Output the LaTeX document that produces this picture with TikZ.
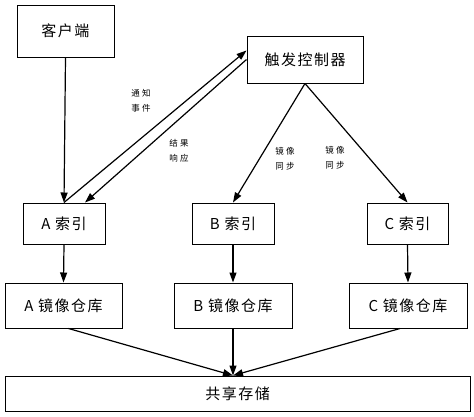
\documentclass[tikz,border=0pt]{standalone}
\usepackage{fontspec}
\setmainfont{Noto Sans CJK SC}[LetterSpace=10]
\newfontfamily\lblfont[LetterSpace=25]{Noto Sans CJK SC}
\usetikzlibrary{arrows.meta}

\tikzset{
  box/.style={draw, line width=1pt, inner sep=0pt, font=\fontsize{15}{17}\selectfont},
  lbl/.style={align=center, inner sep=0pt, font=\lblfont\fontsize{8.5}{15}\selectfont},
  arrow/.style={line width=1.2pt, -{Triangle[length=10pt,width=7pt]}}
}

\begin{document}
\begin{tikzpicture}[x=1pt, y=-1pt]
            \useasboundingbox (0,0) rectangle (474,416);

            % Drawing top boxes
            \node [box, minimum width=97pt, minimum height=52pt] (client) at (65.5,31) {客户端};%
            \node [box, minimum width=116pt, minimum height=47pt] (trigger) at (305,59.5) {触发控制器};%

            % Drawing index boxes
            \node [box, minimum width=82pt, minimum height=41pt] (idxA) at (64,223.5) {A 索引};%
            \node [box, minimum width=82pt, minimum height=41pt] (idxB) at (233,223.5) {B 索引};%
            \node [box, minimum width=81pt, minimum height=41pt] (idxC) at (407.5,223.5) {C 索引};%

            % Drawing mirror repository boxes
            \node [box, minimum width=117pt, minimum height=45pt] (repoA) at (63.5,305.5) {A 镜像仓库};%
            \node [box, minimum width=118pt, minimum height=45pt] (repoB) at (233,305.5) {B 镜像仓库};%
            \node [box, minimum width=118pt, minimum height=45pt] (repoC) at (408,305.5) {C 镜像仓库};%

            % Drawing shared storage
            \node [box, minimum width=465pt, minimum height=35pt] (storage) at (237.5,393.5) {共享存储};%
            \coordinate (hub) at (repoB.south |- storage.north);%

            % Drawing arrows client and trigger
            \draw [arrow] (client.south) -- (idxA.north);%
            \draw [arrow] (idxA.north) -- ([yshift=9pt]trigger.west);%
            \draw [arrow] (trigger.west) -- ([xshift=21pt]idxA.north);%
            \draw [arrow] (trigger.south) -- (idxB.north);%
            \draw [arrow] (trigger.south) -- (idxC.north);%

            % Drawing arrows index to repository
            \draw [arrow] (idxA.south) -- (repoA.north);%
            \draw [arrow] (idxB.south) -- (repoB.north);%
            \draw [arrow] (idxC.south) -- (repoC.north);%

            % Drawing arrows repository to storage
            \draw [arrow] ([xshift=5pt]repoA.south) -- (hub);%
            \draw [arrow] (repoB.south) -- (hub);%
            \draw [arrow] ([xshift=-8pt]repoC.south) -- (hub);%

            % Marking labels
            \node [lbl] (notify) at (141,101) {通知\\事件};%
            \node [lbl] (result) at (179,151) {结果\\响应};%
            \node [lbl] (syncB) at (285,159) {镜像\\同步};%
            \node [lbl] (syncC) at (335,158) {镜像\\同步};%
\end{tikzpicture}
\end{document}
